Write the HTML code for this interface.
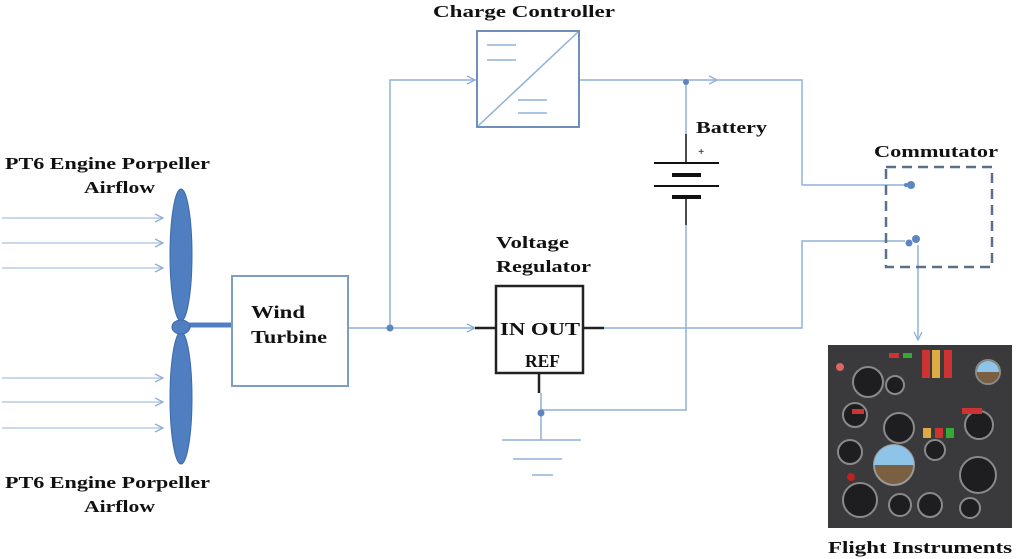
<!DOCTYPE html>
<html><head><style>
body{margin:0;background:#fff;}
svg{display:block;}
text{font-family:"Liberation Serif",serif;font-weight:bold;fill:#111;}
</style></head><body>
<svg width="1016" height="559" viewBox="0 0 1016 559" xmlns="http://www.w3.org/2000/svg">
<defs>
<marker id="a" markerWidth="10" markerHeight="10" refX="9" refY="5" orient="auto" markerUnits="userSpaceOnUse">
<path d="M1,1 L9,5 L1,9" fill="none" stroke="#8fb0d8" stroke-width="1.3"/></marker>
</defs>
<g stroke="#a9c2e2" stroke-width="1.3" fill="none">
<line x1="2" y1="218" x2="163" y2="218" marker-end="url(#a)"/>
<line x1="2" y1="243" x2="163" y2="243" marker-end="url(#a)"/>
<line x1="2" y1="268" x2="163" y2="268" marker-end="url(#a)"/>
<line x1="2" y1="378" x2="163" y2="378" marker-end="url(#a)"/>
<line x1="2" y1="402" x2="163" y2="402" marker-end="url(#a)"/>
<line x1="2" y1="428" x2="163" y2="428" marker-end="url(#a)"/>
</g>
<g stroke="#8fb0d8" stroke-width="1.5" fill="none">
<line x1="348" y1="328" x2="475" y2="328" marker-end="url(#a)"/>
<polyline points="390,328 390,80 475,80" marker-end="url(#a)"/>
<line x1="580" y1="80" x2="717" y2="80" marker-end="url(#a)"/>
<polyline points="717,80 802,80 802,185 905,185"/>
<polyline points="604,328 802,328 802,241 905,241"/>
<line x1="686" y1="80" x2="686" y2="134"/>
<polyline points="686,225 686,410 541,410"/>
<line x1="541" y1="393" x2="541" y2="440"/>
<line x1="502" y1="440" x2="581" y2="440"/>
<line x1="513" y1="459" x2="562" y2="459"/>
<line x1="532" y1="475" x2="553" y2="475"/>
<line x1="918" y1="245" x2="918" y2="340" marker-end="url(#a)"/>
</g>
<g fill="#5b86c0">
<circle cx="390" cy="328" r="3.5"/><circle cx="686" cy="82" r="3"/><circle cx="541" cy="413" r="3.5"/>
<circle cx="911" cy="185" r="4"/><circle cx="906" cy="185" r="2"/>
<circle cx="916" cy="239" r="4"/><circle cx="909" cy="243" r="3.5"/>
</g>
<g fill="#4f7fc0" stroke="#3d6aa8" stroke-width="1">
<ellipse cx="181" cy="255" rx="11" ry="66"/>
<ellipse cx="181" cy="398" rx="11" ry="66"/>
<line x1="181" y1="325" x2="232" y2="325" stroke="#4f7fc0" stroke-width="5"/>
<ellipse cx="181" cy="327" rx="9" ry="7"/>
</g>
<rect x="232" y="276" width="116" height="110" fill="#fff" stroke="#7f9cc4" stroke-width="2"/>
<text x="251" y="318" font-size="18" textLength="54" lengthAdjust="spacingAndGlyphs">Wind</text>
<text x="251" y="343" font-size="18" textLength="76" lengthAdjust="spacingAndGlyphs">Turbine</text>
<rect x="477" y="31" width="102" height="96" fill="#fff" stroke="#6f8eb8" stroke-width="2"/>
<g stroke="#8fb0d8" stroke-width="1.5">
<line x1="478" y1="126" x2="578" y2="32"/>
<line x1="487" y1="45" x2="516" y2="45"/><line x1="487" y1="60" x2="516" y2="60"/>
<line x1="518" y1="100" x2="547" y2="100"/><line x1="518" y1="113" x2="547" y2="113"/>
</g>
<text x="433" y="17" font-size="17" textLength="182" lengthAdjust="spacingAndGlyphs">Charge Controller</text>
<g stroke="#111">
<line x1="686" y1="134" x2="686" y2="163" stroke-width="1.5"/>
<line x1="654" y1="163" x2="719" y2="163" stroke-width="2"/>
<line x1="672" y1="175" x2="701" y2="175" stroke-width="4"/>
<line x1="654" y1="186" x2="719" y2="186" stroke-width="2"/>
<line x1="672" y1="197" x2="701" y2="197" stroke-width="4"/>
<line x1="686" y1="197" x2="686" y2="225" stroke-width="1.5"/>
</g>
<text x="698" y="155" font-size="11">+</text>
<text x="696" y="133" font-size="17" textLength="71" lengthAdjust="spacingAndGlyphs">Battery</text>
<rect x="496" y="286" width="87" height="87" fill="#fff" stroke="#222" stroke-width="2.5"/>
<g stroke="#222" stroke-width="2.5">
<line x1="475" y1="328" x2="496" y2="328"/><line x1="583" y1="328" x2="604" y2="328"/>
<line x1="539" y1="373" x2="539" y2="393"/>
</g>
<text x="500" y="335" font-size="18" textLength="80" lengthAdjust="spacingAndGlyphs">IN  OUT</text>
<text x="525" y="367" font-size="18" textLength="35" lengthAdjust="spacingAndGlyphs">REF</text>
<text x="496" y="248" font-size="17" textLength="73" lengthAdjust="spacingAndGlyphs">Voltage</text>
<text x="496" y="272" font-size="17" textLength="95" lengthAdjust="spacingAndGlyphs">Regulator</text>
<rect x="886" y="167" width="106" height="100" fill="none" stroke="#5c6f8c" stroke-width="2.5" stroke-dasharray="10,6"/>
<text x="874" y="157" font-size="17" textLength="124" lengthAdjust="spacingAndGlyphs">Commutator</text>
<text x="5" y="169" font-size="17" textLength="205" lengthAdjust="spacingAndGlyphs">PT6 Engine Porpeller</text>
<text x="84" y="193" font-size="17" textLength="71" lengthAdjust="spacingAndGlyphs">Airflow</text>
<text x="5" y="488" font-size="17" textLength="205" lengthAdjust="spacingAndGlyphs">PT6 Engine Porpeller</text>
<text x="84" y="512" font-size="17" textLength="71" lengthAdjust="spacingAndGlyphs">Airflow</text>
<rect x="828" y="345" width="184" height="183" fill="#3a3a3c"/>
<g fill="#1e1e20" stroke="#8a8a8a" stroke-width="2">
<circle cx="868" cy="382" r="15"/><circle cx="895" cy="385" r="9"/><circle cx="988" cy="372" r="12"/>
<circle cx="855" cy="415" r="12"/><circle cx="899" cy="428" r="15"/><circle cx="979" cy="425" r="14"/>
<circle cx="850" cy="452" r="12"/><circle cx="935" cy="450" r="10"/><circle cx="978" cy="475" r="18"/>
<circle cx="860" cy="500" r="17"/><circle cx="900" cy="505" r="11"/><circle cx="930" cy="505" r="12"/><circle cx="970" cy="508" r="10"/>
</g>
<circle cx="894" cy="465" r="20" fill="#7a6040" stroke="#999" stroke-width="2"/>
<path d="M874,465 a20,20 0 0 1 40,0z" fill="#8ec4e8"/>
<circle cx="988" cy="372" r="11" fill="#7a6040"/><path d="M977,372 a11,11 0 0 1 22,0z" fill="#8ec4e8"/>
<g>
<rect x="889" y="353" width="10" height="5" fill="#c33"/><rect x="903" y="353" width="9" height="5" fill="#3a3"/>
<rect x="922" y="350" width="8" height="28" fill="#c33"/><rect x="932" y="350" width="8" height="28" fill="#da4"/><rect x="944" y="350" width="8" height="28" fill="#c33"/>
<rect x="923" y="428" width="8" height="10" fill="#da4"/><rect x="935" y="428" width="8" height="10" fill="#c33"/><rect x="946" y="428" width="8" height="10" fill="#3a3"/>
<rect x="852" y="409" width="12" height="5" fill="#c33"/><rect x="962" y="408" width="20" height="6" fill="#c33"/>
<circle cx="840" cy="367" r="4" fill="#d66"/><circle cx="851" cy="477" r="4" fill="#b22"/>
</g>
<text x="828" y="553" font-size="17" textLength="184" lengthAdjust="spacingAndGlyphs">Flight Instruments</text>
</svg>
</body></html>
